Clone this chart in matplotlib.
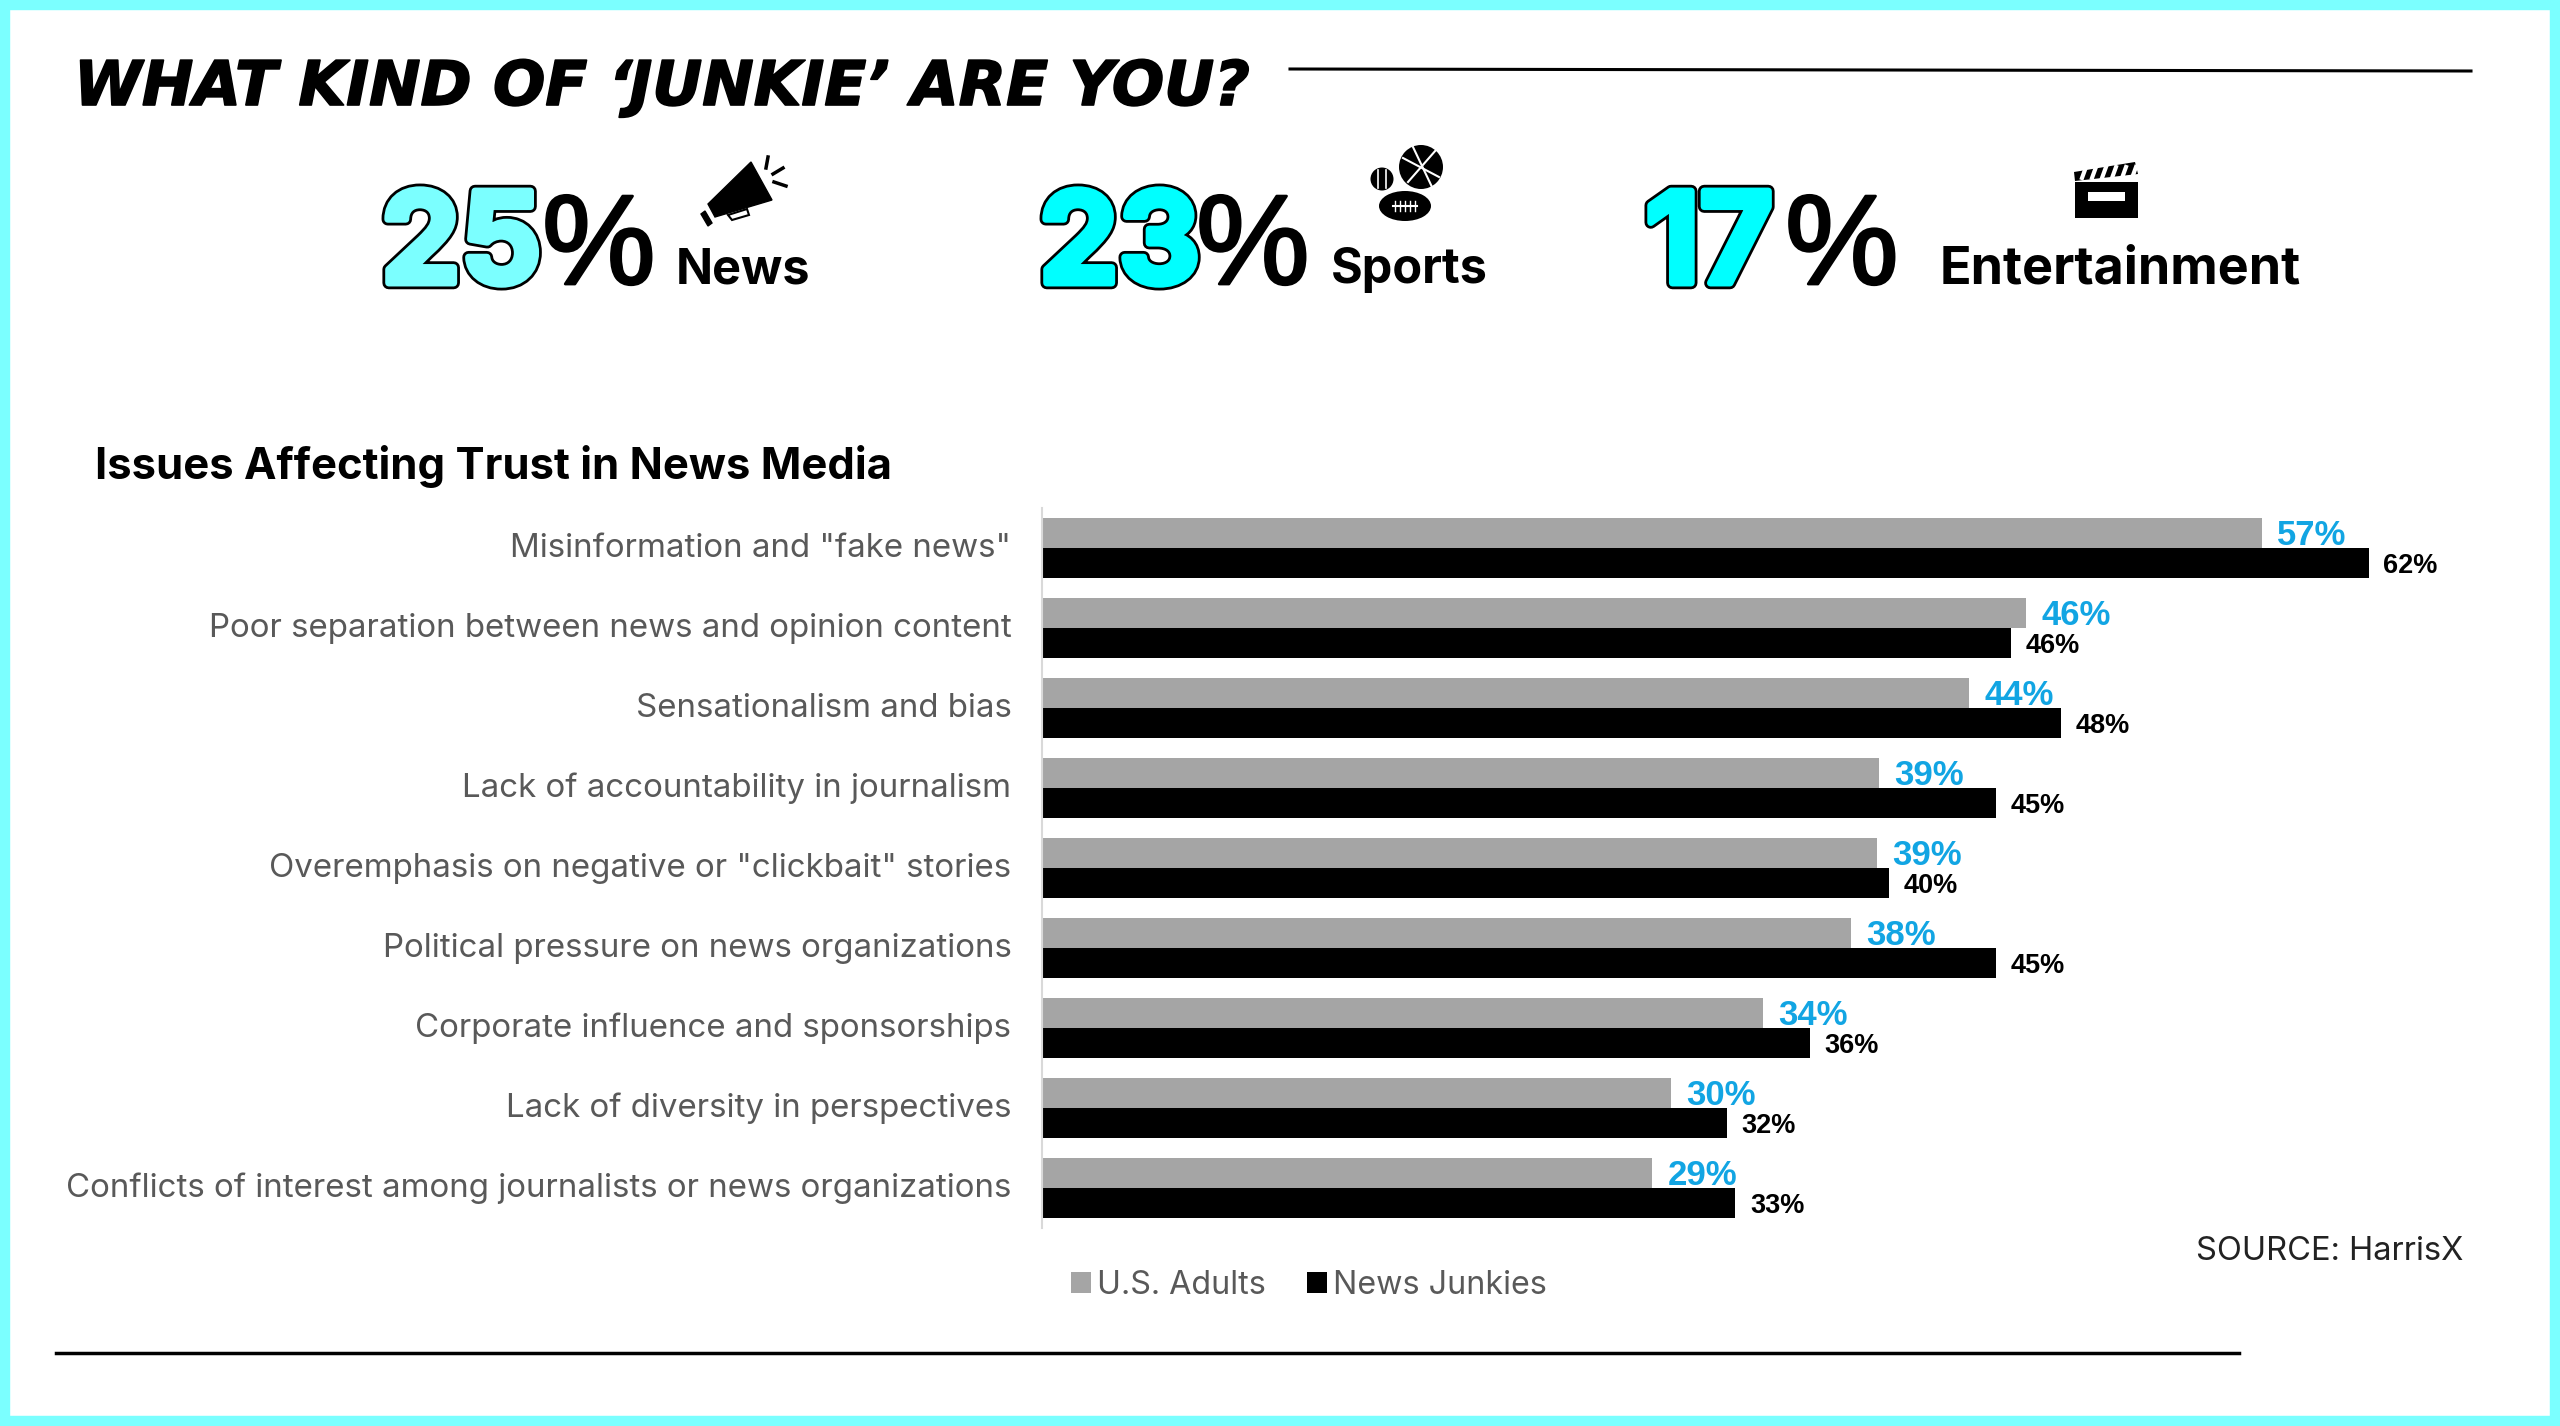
import matplotlib
matplotlib.use("Agg")
import matplotlib.pyplot as plt
import matplotlib.patheffects as pe
from matplotlib.patches import Polygon, Ellipse, Rectangle
from matplotlib.transforms import ScaledTranslation

issues = ['Misinformation and "fake news"',
          'Poor separation between news and opinion content',
          'Sensationalism and bias',
          'Lack of accountability in journalism',
          'Overemphasis on negative or "clickbait" stories',
          'Political pressure on news organizations',
          'Corporate influence and sponsorships',
          'Lack of diversity in perspectives',
          'Conflicts of interest among journalists or news organizations']
adults = [57, 46, 43.3, 39.1, 39, 37.8, 33.7, 29.4, 28.5]
junkies = [62, 45.3, 47.6, 44.6, 39.6, 44.6, 35.9, 32, 32.4]
adults_txt = ['57%', '46%', '44%', '39%', '39%', '38%', '34%', '30%', '29%']
junkies_txt = ['62%', '46%', '48%', '45%', '40%', '45%', '36%', '32%', '33%']
stat_nums = ['25', '23', '17']
stat_names = ['News', 'Sports', 'Entertainment']

TEAL = '#7BFFFF'
GREY = '#A5A5A5'
BLUE = '#12A5E3'
LABEL = '#595959'
SANS = 'Inter'

W, H = 2560, 1426
fig = plt.figure(figsize=(W / 100, H / 100), dpi=100, facecolor='white')

# bars
ax = fig.add_axes([1042 / W, 1 - 1228 / H, 1498 / W, 720 / H])
ys = list(range(len(issues)))
ax.barh([y - 0.1875 for y in ys], adults, height=0.375, color=GREY, label='U.S. Adults')
ax.barh([y + 0.1875 for y in ys], junkies, height=0.375, color='black', label='News Junkies')
ax.set_xlim(0, 70)
ax.set_ylim(8.5, -0.5)
ax.set_yticks(ys)
ax.set_yticklabels(issues, fontsize=23.8, color=LABEL, family=SANS)
ax.tick_params(axis='y', length=0, pad=22)
up = ScaledTranslation(0, 3 / 100, fig.dpi_scale_trans)
for lab in ax.get_yticklabels():
    lab.set_transform(lab.get_transform() + up)
ax.xaxis.set_visible(False)
for s in ['top', 'right', 'bottom']:
    ax.spines[s].set_visible(False)
ax.spines['left'].set_color('#D9D9D9')
ax.spines['left'].set_linewidth(1.5)

for y, a, b, ta, tb in zip(ys, adults, junkies, adults_txt, junkies_txt):
    ax.text(a + 0.72, y - 0.16, ta, color=BLUE, fontsize=25, fontweight='bold',
            family='Liberation Sans', va='center')
    ax.text(b + 0.68, y + 0.22, tb, color='black', fontsize=19.5, fontweight='bold',
            family='Liberation Sans', va='center')

ax.legend(loc='upper left', bbox_to_anchor=(1042 / W, 1 - 1241 / H), bbox_transform=fig.transFigure,
          ncol=2, frameon=False, handlelength=0.62, handleheight=0.62, handletextpad=0.2,
          columnspacing=1.25, labelcolor=LABEL, prop={'family': SANS, 'size': 23.2})

# overlay in pixel coordinates for the infographic parts
ov = fig.add_axes([0, 0, 1, 1], zorder=5)
ov.set_xlim(0, W)
ov.set_ylim(H, 0)
ov.axis('off')
ov.patch.set_alpha(0)

ov.add_patch(Rectangle((5, 5), W - 10, H - 10, fill=False, ec=TEAL, lw=7.5))
ov.plot([1290, 2471], [69, 71], color='black', lw=2.2)
ov.plot([56, 2239], [1353, 1353], color='black', lw=2.5)

ov.text(74, 105, 'WHAT KIND OF ‘JUNKIE’ ARE YOU?', fontsize=44.3, fontweight='bold',
        style='italic', family='DejaVu Sans', color='black', va='baseline',
        path_effects=[pe.withStroke(linewidth=1.2, foreground='black')])
ov.text(95, 479, 'Issues Affecting Trust in News Media', fontsize=31.4, fontweight='bold',
        family=SANS, color='black', va='baseline')
ov.text(2463, 1251, 'SOURCE: HarrisX', fontsize=23.5, family=SANS, color='#222222',
        ha='right', va='center')

num_x = [381, 1039, 1645]
pct_x = [542, 1196, 1785]
name_x = [676, 1331, 1940]
name_size = [35, 35, 37.5]
num_col = [TEAL, '#00FFFF', '#00FFFF']
for i in range(3):
    # two stroke layers make the digits heavier than the font's own bold
    ov.text(num_x[i], 283, stat_nums[i], fontsize=91, fontweight='bold', family=SANS,
            color=num_col[i], va='baseline',
            path_effects=[pe.withStroke(linewidth=9, foreground='black'),
                          pe.withStroke(linewidth=5, foreground=num_col[i])])
    ov.text(pct_x[i], 284, '%', fontsize=92, family='Liberation Sans', color='black', va='baseline',
            path_effects=[pe.withStroke(linewidth=2, foreground='black')])
    ov.text(name_x[i], 283, stat_names[i], fontsize=name_size[i], fontweight='bold', family=SANS,
            color='black', va='baseline')

# megaphone
ov.add_patch(Polygon([(708, 204), (751, 162), (772, 200), (715, 217)], fc='black', ec='black'))
ov.add_patch(Polygon([(701, 214), (705, 211), (712, 223), (708, 226)], fc='black', ec='black'))
ov.add_patch(Polygon([(728, 215), (747, 209), (749, 215), (732, 220)], fc='white', ec='black', lw=1.5))
for seg in [[(768, 157), (766, 168)], [(783, 168), (773, 174)], [(786, 186), (774, 182)]]:
    ov.plot(*zip(*seg), color='black', lw=2.5)

# balls
ov.add_patch(Ellipse((1421, 167), 44, 44, fc='black'))
for seg in [[(1403, 158), (1439, 177)], [(1413, 147), (1432, 187)], [(1436, 150), (1408, 182)]]:
    ov.plot(*zip(*seg), color='white', lw=1.5)
ov.add_patch(Ellipse((1382, 179), 23, 23, fc='black'))
ov.plot([1378, 1378], [170, 188], color='white', lw=1.2)
ov.plot([1386, 1386], [170, 188], color='white', lw=1.2)
ov.add_patch(Ellipse((1405, 206), 52, 30, fc='black'))
ov.plot([1393, 1417], [206, 206], color='white', lw=1.5)
for x in range(1395, 1417, 5):
    ov.plot([x, x], [201, 211], color='white', lw=1)

# clapperboard
ov.add_patch(Rectangle((2075, 182), 63, 36, fc='black'))
ov.add_patch(Rectangle((2088, 192), 37, 9, fc='white'))
ov.add_patch(Polygon([(2074, 172), (2135, 162), (2138, 174), (2075, 181)], fc='black'))
for x in range(2082, 2134, 10):
    ov.plot([x, x + 4], [178, 167], color='white', lw=3)

fig.savefig('out.png', dpi=100)
